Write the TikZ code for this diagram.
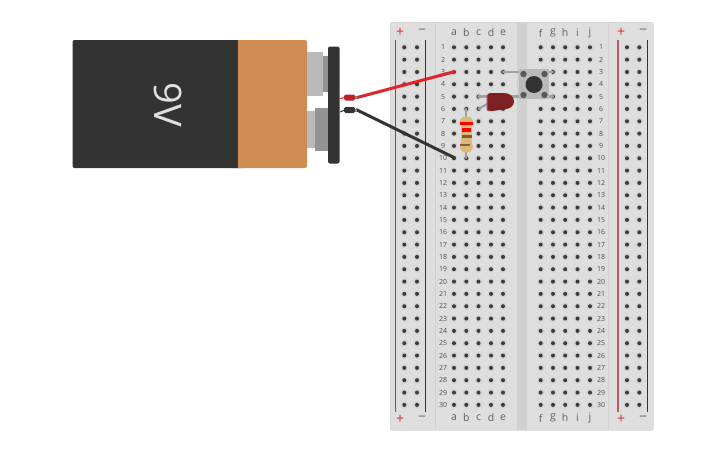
\documentclass[tikz,border=0pt]{standalone}
\usepackage{fontspec}
\setmainfont{Open Sans}
\usepackage{tikz}
\usetikzlibrary{calc}
\definecolor{boardgray}{HTML}{DEDEDE}
\definecolor{boardedge}{HTML}{D0D0D0}
\definecolor{holehalo}{HTML}{D0D0D0}
\definecolor{holedark}{HTML}{3A3A3A}
\definecolor{battblack}{HTML}{333333}
\definecolor{battcopper}{HTML}{D08D53}
\definecolor{railred}{HTML}{E0242A}
\definecolor{rightred}{HTML}{C9545A}
\definecolor{ledred}{HTML}{7E2023}
\definecolor{leadgray}{HTML}{A0A0A0}
\definecolor{resbody}{HTML}{DDB878}
\tikzset{
    lbl/.style={inner sep=0pt,text=black!62,font=\fontsize{10.5}{10.5}\selectfont},
    sign/.style={inner sep=0pt,font=\fontsize{14}{14}\selectfont},
    num/.style={inner sep=0pt,text=black!70,font=\fontsize{7}{7}\selectfont},
    wire/.style={line width=3pt},
    lead/.style={leadgray,line width=2.2pt,line cap=round}
}
\newcommand{\hole}[2]{ \fill[holehalo] ( #1 , #2 ) circle (3.4pt); \fill[holedark] ( #1 , #2 ) circle (2pt);}
\newcommand{\rowy}[1]{47.3 + 12.33 * #1 - 12.33}
\begin{document}
\begin{tikzpicture}[x=1pt,y=-1pt]
        \useasboundingbox (0,0) rectangle (725,453);
        % board
        \fill[boardedge,rounded corners=2pt] (390,22) rectangle (653.5,430.5);
        \fill[boardgray,rounded corners=2pt] (390.5,22.5) rectangle (653,430);
        \fill[boardedge] (435,23) rectangle (436,430);
        \fill[boardedge] (608,23) rectangle (609,430);
        \fill[boardedge] (517,22.5) rectangle (527,430);
        % rails
        \draw[railred,line width=1.6pt] (395.3,40) -- (395.3,412);
        \draw[battblack,line width=1.2pt] (425.5,40) -- (425.5,412);
        \draw[rightred,line width=1.6pt] (618,40) -- (618,412);
        \draw[battblack,line width=1.2pt] (647.5,40) -- (647.5,412);
        \foreach \x/\s/\c in {400/+/railred,422/\textminus/black!60,621/+/railred,643/\textminus/black!60} {
            \node[sign,text=\c] at (\x,32) {\s};
            \node[sign,text=\c] at (\x,419) {\s};
        }
        % letters
        \foreach \x/\s in {454/a,466.3/b,478.5/c,491/d,503/e,540.7/f,553/g,565.2/h,577.5/i,590/j} {
            \node[lbl] at (\x,33) {\s};
            \node[lbl] at (\x,418) {\s};
        }
        % holes and numbers
        \foreach \r in {1,...,30} {
            \node[num] at (443,{\rowy{\r}}) {\r};
            \node[num] at (601,{\rowy{\r}}) {\r};
            \foreach \x in {404.3,417,454,466.3,478.5,491,503,540.7,553,565.2,577.5,590,627,639.3} {
                \hole{\x}{\rowy{\r}}
            }
        }
        % battery
        \fill[battblack,rounded corners=2pt] (72.5,40) rectangle (245,168);
        \fill[battcopper,rounded corners=2pt] (230,40) rectangle (307,168);
        \fill[battblack] (230,40) rectangle (238,168);
        \node[inner sep=0pt,rotate=-90,text=black!12,font=\fontsize{38}{38}\selectfont] (volt) at (168,104.5) {9V};
        \fill[black!27] (307,52) rectangle (323,96);
        \fill[black!42] (323,56) rectangle (329,92);
        \fill[black!27] (307,111) rectangle (316,148);
        \fill[black!42] (315,108) rectangle (329,151);
        \fill[battblack,rounded corners=2pt] (328,46.5) rectangle (339.5,163.5);
        % wires
        \coordinate (redsnap) at (356,97.8);
        \coordinate (blacksnap) at (356,109.5);
        \coordinate (redend) at (455,71.5);
        \coordinate (blackend) at (455,158);
        \draw[railred,wire] (redsnap) -- (redend);
        \draw[battblack,wire] (blacksnap) -- (blackend);
        \draw[railred,line width=1pt] (340,98.5) -- (345,97.5);
        \draw[battblack,line width=1pt] (340,112) -- (345,110);
        \fill[black!45] (353,96) rectangle (357,99);
        \fill[black!45] (353,108.5) rectangle (357,111.5);
        \fill[railred!85!black,rounded corners=1.5pt] (344,94.5) rectangle (355,100.5);
        \fill[battblack,rounded corners=1.5pt] (344,107) rectangle (355,113);
        % resistor
        \draw[lead] (466.3,109) -- (466.3,158);
        \fill[resbody] (466.3,116.5) .. controls (458,117) and (459,123) .. (461,126) -- (461,142) .. controls (459,146) and (458,152) .. (466.3,152.5) .. controls (474.5,152) and (473.5,146) .. (471.5,142) -- (471.5,126) .. controls (473.5,123) and (474.5,117) .. (466.3,116.5) -- cycle;
        \fill[red] (460,121.5) rectangle (472.5,125);
        \fill[red] (461.5,128) rectangle (471,131.5);
        \fill[black!30!brown] (461.5,134.5) rectangle (472,138);
        \fill[black!45!resbody] (460,144) rectangle (470,146);
        % led
        \draw[lead] (478.5,96.5) -- (489,96.5);
        \draw[lead] (478.5,109) -- (487,104);
        \draw[lead] (511,96.5) -- (520,96.5);
        \fill[ledred!80!white,rounded corners=2pt] (486.5,94) rectangle (491,111);
        \fill[ledred] (488,95) .. controls (488,93.5) and (489,93) .. (491,93) -- (504,93) .. controls (510,93) and (514,97) .. (514,101.5) .. controls (514,106) and (510,109) .. (504,109.5) -- (492,111) .. controls (489,111) and (488,110) .. (488,108) -- cycle;
        % button
        \draw[lead] (503,72) -- (520,72);
        \draw[lead] (545,72) -- (553,72);
        \draw[lead] (545,96.5) -- (553,96.5);
        \fill[black!27] (519,69) rectangle (549,99);
        \foreach \x in {523.5,544.5} {
            \foreach \y in {74,95} {
                \fill[black!65] (\x,\y) circle (3.2pt);
            }
        }
        \fill[battblack] (534,84.5) circle (8.5pt);
\end{tikzpicture}
\end{document}
